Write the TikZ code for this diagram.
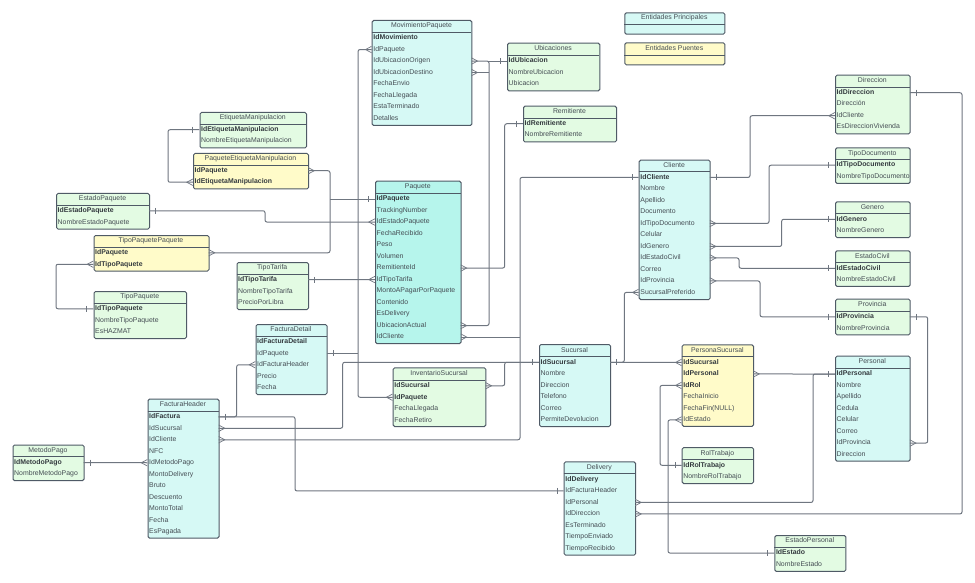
\documentclass[tikz,border=0pt]{standalone}
\usepackage{fontspec}
\setmainfont{Liberation Sans}
\definecolor{cgreen}{HTML}{E3FBE3}
\definecolor{ccyan}{HTML}{D6F9F5}
\definecolor{cpaq}{HTML}{B6F5EC}
\definecolor{cyel}{HTML}{FFFBC9}
\definecolor{cedge}{HTML}{4F5A66}
\definecolor{cline}{HTML}{6F7680}
\definecolor{ctext}{HTML}{454D54}
\tikzset{
  tablebox/.style={draw=cedge,line width=1pt,rounded corners=1.5pt,inner sep=0pt},
  titletxt/.style={inner sep=0pt,font=\fontsize{6.9}{8}\selectfont,text=ctext,anchor=center,text height=5pt,text depth=1.5pt},
  rowtxt/.style={inner sep=0pt,font=\fontsize{6.9}{8}\selectfont,text=ctext,align=left,text height=5pt,text depth=1.5pt},
  rel/.style={draw=cline,line width=1pt,rounded corners=2pt},
  mark1/.style={draw=cline,line width=0.8pt},
  markN/.style={draw=cline,line width=0.7pt}
}
\newcommand{\bk}[1]{\textbf{\textcolor{ctext!75!black}{#1}}}
% \tbl{name}{x}{y}{w}{headerbottom}{bottom}{fill}{title}{rows}
\newcommand{\tbl}[9]{%
  \node[tablebox,fill=#7,minimum width=#4pt,minimum height={(#6-#3)*1pt},anchor=north west] (#1) at (#2,#3) {};
  \draw[cedge,line width=0.9pt] (#2,#5) -- ++(#4,0);
  \node[titletxt] (#1-t) at ({#2+#4/2},{(#3+#5)/2}) {#8};
  \foreach \t [count=\i] in {#9}{
    \node[rowtxt,text width={(#4-3.4)*1pt},minimum width=#4pt] (#1-\i) at ({#2+#4/2},{#5+(\i-0.5)*11.5}) {\t};
  }
}
% \hvh{a}{X}{b}: horizontal, vertical at x=X, horizontal
\newcommand{\hvh}[3]{\draw[rel] (#1) -- (#1 -| #2,0) -- (#3 -| #2,0) -- (#3);}
\newcommand{\oneE}[2][6.5]{\draw[mark1] ([xshift=#1pt,yshift=3pt]#2.east) -- ([xshift=#1pt,yshift=-3pt]#2.east);}
\newcommand{\oneW}[2][6.5]{\draw[mark1] ([xshift=-#1pt,yshift=3pt]#2.west) -- ([xshift=-#1pt,yshift=-3pt]#2.west);}
\newcommand{\manyE}[1]{\draw[markN] ([yshift=3.2pt]#1.east) -- ([xshift=6pt]#1.east) -- ([yshift=-3.2pt]#1.east);}
\newcommand{\manyW}[1]{\draw[markN] ([yshift=3.2pt]#1.west) -- ([xshift=-6pt]#1.west) -- ([yshift=-3.2pt]#1.west);}
\begin{document}
\begin{tikzpicture}[x=1pt,y=-1pt]
\useasboundingbox[fill=white] (0,0) rectangle (975,583);
% legend
\node[tablebox,fill=ccyan,minimum width=100pt,minimum height=21.4pt,anchor=north west] (LegP) at (624.3,12.3) {};
\draw[cedge,line width=0.9pt] (LegP.west |- 0,24.3) -- (LegP.east |- 0,24.3);
\node[titletxt] (LegPt) at (674.3,18.2) {Entidades Principales};
\node[tablebox,fill=cyel,minimum width=100pt,minimum height=22pt,anchor=north west] (LegB) at (624.3,42.3) {};
\draw[cedge,line width=0.9pt] (LegB.west |- 0,55.3) -- (LegB.east |- 0,55.3);
\node[titletxt] (LegBt) at (674.3,48.6) {Entidades Puentes};
% tables
\tbl{Eti}{199.5}{112}{106.5}{124}{147.5}{cgreen}{EtiquetaManipulacion}{\bk{IdEtiquetaManipulacion},NombreEtiquetaManipulacion}
\tbl{PEt}{193}{153}{115}{165}{188.5}{cyel}{PaqueteEtiquetaManipulacion}{\bk{IdPaquete},\bk{IdEtiquetaManipulacion}}
\tbl{Est}{56}{193}{93}{205}{228.5}{cgreen}{EstadoPaquete}{\bk{IdEstadoPaquete},NombreEstadoPaquete}
\tbl{TPP}{93.5}{235}{115}{247}{270.5}{cyel}{TipoPaquetePaquete}{\bk{IdPaquete},\bk{IdTipoPaquete}}
\tbl{TPq}{93.5}{291}{92.5}{303}{338}{cgreen}{TipoPaquete}{\bk{IdTipoPaquete},NombreTipoPaquete,EsHAZMAT}
\tbl{TTa}{236.5}{262}{71.5}{274}{309}{cgreen}{TipoTarifa}{\bk{IdTipoTarifa},NombreTipoTarifa,PrecioPorLibra}
\tbl{FDe}{255.5}{324}{71}{336}{394}{ccyan}{FacturaDetail}{\bk{IdFacturaDetail},IdPaquete,IdFacturaHeader,Precio,Fecha}
\tbl{FHe}{147.5}{398.7}{71}{411}{537.7}{ccyan}{FacturaHeader}{\bk{IdFactura},IdSucursal,IdCliente,NFC,IdMetodoPago,MontoDelivery,Bruto,Descuento,MontoTotal,Fecha,EsPagada}
\tbl{Met}{12.5}{444.5}{71}{456.8}{480.2}{cgreen}{MetodoPago}{\bk{IdMetodoPago},NombreMetodoPago}
\tbl{Mov}{371.7}{20}{99.6}{32.3}{125}{ccyan}{MovimientoPaquete}{\bk{IdMovimiento},IdPaquete,IdUbicacionOrigen,IdUbicacionDestino,FechaEnvio,FechaLlegada,EstaTerminado,Detalles}
\tbl{Ubi}{507}{42.7}{92.3}{55.5}{90.3}{cgreen}{Ubicaciones}{\bk{IdUbicacion},NombreUbicacion,Ubicacion}
\tbl{Rem}{523}{105.7}{93}{118}{141.5}{cgreen}{Remitiente}{\bk{IdRemitiente},NombreRemitiente}
\tbl{Paq}{375}{180.7}{85.5}{193.3}{343.2}{cpaq}{Paquete}{\bk{IdPaquete},TrackingNumber,IdEstadoPaquete,FechaRecibido,Peso,Volumen,RemitienteId,IdTipoTarifa,MontoAPagarPorPaquete,Contenido,EsDelivery,UbicacionActual,IdCliente}
\tbl{Inv}{392.7}{367.3}{92.6}{380}{426}{cgreen}{InventarioSucursal}{\bk{IdSucursal},\bk{IdPaquete},FechaLlegada,FechaRetiro}
\tbl{Suc}{539}{344}{71}{356.5}{426}{ccyan}{Sucursal}{\bk{IdSucursal},Nombre,Direccion,Telefono,Correo,PermiteDevolucion}
\tbl{Del}{563.7}{461.3}{71.3}{473.7}{554.7}{ccyan}{Delivery}{\bk{IdDelivery},IdFacturaHeader,IdPersonal,IdDireccion,EsTerminado,TiempoEnviado,TiempoRecibido}
\tbl{Cli}{638.7}{159.7}{71}{171.7}{299}{ccyan}{Cliente}{\bk{IdCliente},Nombre,Apellido,Documento,IdTipoDocumento,Celular,IdGenero,IdEstadoCivil,Correo,IdProvincia,SucursalPreferido}
\tbl{Dir}{835}{74.7}{74.7}{87}{133.3}{cgreen}{Direccion}{\bk{IdDireccion},Dirección,IdCliente,EsDireccionVivienda}
\tbl{TDo}{835}{147.3}{74.7}{159.5}{182.9}{cgreen}{TipoDocumento}{\bk{IdTipoDocumento},NombreTipoDocumento}
\tbl{Gen}{835}{201.3}{74.7}{213.5}{237}{cgreen}{Genero}{\bk{IdGenero},NombreGenero}
\tbl{ECi}{835}{250.3}{74.7}{262.5}{285.9}{cgreen}{EstadoCivil}{\bk{IdEstadoCivil},NombreEstadoCivil}
\tbl{Pro}{835}{298.7}{74.7}{311}{334.3}{cgreen}{Provincia}{\bk{IdProvincia},NombreProvincia}
\tbl{PSu}{681.7}{344.3}{71.3}{356.7}{425.9}{cyel}{PersonaSucursal}{\bk{IdSucursal},\bk{IdPersonal},\bk{IdRol},FechaInicio,FechaFin(NULL),IdEstado}
\tbl{Per}{835}{355.7}{74.7}{368.3}{460.7}{ccyan}{Personal}{\bk{IdPersonal},Nombre,Apellido,Cedula,Celular,Correo,IdProvincia,Direccion}
\tbl{Rol}{681.7}{447}{71.3}{459.5}{483}{cgreen}{RolTrabajo}{\bk{IdRolTrabajo},NombreRolTrabajo}
\tbl{EPe}{774.3}{535}{71}{547.3}{570.9}{cgreen}{EstadoPersonal}{\bk{IdEstado},NombreEstado}
% connectors
\hvh{Eti-1.west}{168}{PEt-2.west}\oneW{Eti-1}\manyW{PEt-2}
\hvh{PEt-1.east}{330}{TPP-1.east}\manyE{PEt-1}\manyE{TPP-1}
\draw[rel] (Paq-1.west) -- (Paq-1.west -| 330,0);\oneW{Paq-1}
\hvh{Est-1.east}{265}{Paq-3.west}\oneE{Est-1}\manyW{Paq-3}
\hvh{TPq-1.west}{56}{TPP-2.west}\oneW{TPq-1}\manyW{TPP-2}
\draw[rel] (TTa-1.east) -- (Paq-8.west);\oneE{TTa-1}\manyW{Paq-8}
\hvh{Mov-2.west}{358}{Inv-2.west}\manyW{Mov-2}\manyW{Inv-2}
\draw[rel] (FDe-2.east) -- (FDe-2.east -| 358,0);\oneE{FDe-2}
\hvh{Mov-3.east}{489}{Paq-12.east}\manyE{Mov-3}\manyE{Paq-12}
\draw[rel] (Mov-4.east) -- (Mov-4.east -| 489,0);\manyE{Mov-4}
\draw[rel] (Ubi-1.west) -- (Ubi-1.west -| 489,0);\oneW{Ubi-1}
\hvh{Rem-1.west}{504.7}{Paq-7.east}\oneW{Rem-1}\manyE{Paq-7}
\hvh{Cli-1.west}{520}{FHe-3.east}\oneW{Cli-1}\manyE{FHe-3}
\draw[rel] (Paq-13.east) -- (Paq-13.east -| 520,0);\manyE{Paq-13}
\hvh{Suc-1.west}{342.7}{FHe-2.east}\oneW{Suc-1}\manyE{FHe-2}
\hvh{Inv-1.east}{504.7}{Suc-1.west}\manyE{Inv-1}
\draw[rel] (Suc-1.east) -- (PSu-1.west);\oneE{Suc-1}\manyW{PSu-1}
\hvh{Suc-1.east}{624.3}{Cli-11.west}\manyW{Cli-11}
\draw[rel] (PSu-2.east) -- (Per-1.west);\manyE{PSu-2}\oneW{Per-1}
\hvh{Per-1.west}{813}{Del-3.east}\manyE{Del-3}
\hvh{Del-4.east}{962}{Dir-1.east}\manyE{Del-4}\oneE{Dir-1}
\hvh{FHe-1.east}{295}{Del-2.west}\oneE{FHe-1}\oneW{Del-2}
\hvh{FHe-1.east}{236.7}{FDe-3.west}\manyW{FDe-3}
\draw[rel] (Met-1.east) -- (FHe-5.west);\oneE{Met-1}\manyW{FHe-5}
\hvh{Per-7.east}{927.7}{Pro-1.east}\manyE{Per-7}\oneE{Pro-1}
\hvh{Cli-1.east}{750}{Dir-3.west}\oneE{Cli-1}\manyW{Dir-3}
\hvh{Cli-5.east}{769}{TDo-1.west}\manyE{Cli-5}\oneW{TDo-1}
\hvh{Cli-7.east}{781.7}{Gen-1.west}\manyE{Cli-7}\oneW{Gen-1}
\hvh{Cli-8.east}{739}{ECi-1.west}\manyE{Cli-8}\oneW{ECi-1}
\hvh{Cli-10.east}{760}{Pro-1.west}\manyE{Cli-10}\oneW{Pro-1}
\hvh{Rol-1.west}{660}{PSu-3.west}\oneW{Rol-1}\manyW{PSu-3}
\hvh{EPe-1.west}{668}{PSu-6.west}\oneW{EPe-1}\manyW{PSu-6}
\end{tikzpicture}
\end{document}
